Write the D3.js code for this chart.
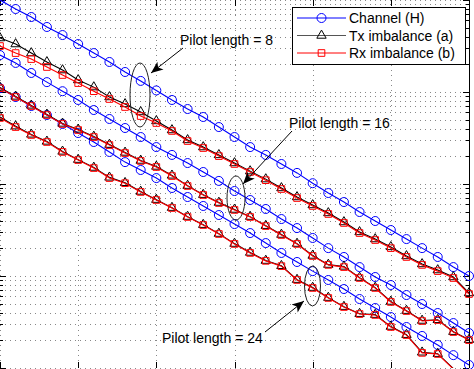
<!DOCTYPE html>
<html>
<head>
<meta charset="utf-8">
<script src="https://cdn.jsdelivr.net/npm/d3@7"></script>
<style>
  body { margin: 0; background: #fff; }
  svg { display: block; }
  text { font-family: "Liberation Sans", Arial, sans-serif; }
</style>
</head>
<body>
<script>
// SNR steps (x) shared by all curves
var snr = d3.range(0, 31);

// Pilot length = 8
var chan8 = [1.00, 0.798, 0.653, 0.509, 0.416, 0.332, 0.265, 0.212, 0.165, 0.132, 0.104,
  0.0819, 0.0653, 0.0535, 0.0416, 0.0324, 0.0252, 0.0207, 0.0165, 0.0132, 0.0102,
  0.00798, 0.00637, 0.00496, 0.00396, 0.00316, 0.00252, 0.00201, 0.00161, 0.00125, 0.00100];
var tx8 = [0.386, 0.332, 0.265, 0.212, 0.173, 0.135, 0.113, 0.0882, 0.0741, 0.0606, 0.0484,
  0.0386, 0.0301, 0.0252, 0.0207, 0.0169, 0.0138, 0.0113, 0.00905, 0.00722, 0.00591,
  0.00484, 0.00386, 0.00301, 0.00252, 0.00207, 0.00165, 0.00135, 0.00116, 0.000975, 0.000653];
var rx8 = [0.316, 0.265, 0.228, 0.187, 0.153, 0.125, 0.102, 0.0839, 0.0687, 0.0548, 0.0460,
  0.0377, 0.0293, 0.0246, 0.0201, 0.0165, 0.0135, 0.0110, 0.00882, 0.00704, 0.00577,
  0.00472, 0.00377, 0.00293, 0.00246, 0.00201, 0.00161, 0.00132, 0.00113, 0.000951, 0.000637];

// Pilot length = 16
var chan16 = [0.252, 0.207, 0.161, 0.128, 0.102, 0.0819, 0.0637, 0.0509, 0.0406, 0.0324, 0.0252,
  0.0207, 0.0169, 0.0135, 0.0108, 0.00839, 0.00670, 0.00535, 0.00416, 0.00332, 0.00259,
  0.00201, 0.00161, 0.00125, 0.000975, 0.000798, 0.000621, 0.000496, 0.000396, 0.000308, 0.000240];
var tx16 = [0.112, 0.0895, 0.0715, 0.0570, 0.0455, 0.0392, 0.0328, 0.0268, 0.0220, 0.0180, 0.0155,
  0.0124, 0.00960, 0.00765, 0.00628, 0.00528, 0.00442, 0.00352, 0.00282, 0.00225, 0.00167,
  0.00133, 0.00127, 0.000960, 0.000748, 0.000528, 0.000420, 0.000328, 0.000334, 0.000248, 0.000203];
var rx16 = [0.110, 0.0882, 0.0704, 0.0562, 0.0449, 0.0386, 0.0324, 0.0265, 0.0217, 0.0178, 0.0153,
  0.0122, 0.00951, 0.00759, 0.00621, 0.00522, 0.00438, 0.00349, 0.00279, 0.00223, 0.00165,
  0.00132, 0.00125, 0.000951, 0.000741, 0.000522, 0.000416, 0.000324, 0.000332, 0.000246, 0.000201];

// Pilot length = 24
var chan24 = [0.110, 0.0882, 0.0704, 0.0562, 0.0449, 0.0358, 0.0286, 0.0223, 0.0173, 0.0142, 0.0116,
  0.00905, 0.00722, 0.00577, 0.00460, 0.00367, 0.00293, 0.00228, 0.00178, 0.00142, 0.00113,
  0.000905, 0.000722, 0.000562, 0.000449, 0.000358, 0.000279, 0.000223, 0.000178, 0.000138, 0.000108];
var tx24 = [0.0535, 0.0425, 0.0346, 0.0290, 0.0226, 0.0184, 0.0151, 0.0118, 0.0103, 0.00828, 0.00676,
  0.00553, 0.00442, 0.00361, 0.00289, 0.00225, 0.00180, 0.00147, 0.00129, 0.000912, 0.000748,
  0.000582, 0.000464, 0.000389, 0.000380, 0.000282, 0.000230, 0.000148, 0.000143, 0.0000985, 0.0000612];
var rx24 = [0.0522, 0.0416, 0.0341, 0.0286, 0.0223, 0.0182, 0.0149, 0.0116, 0.0102, 0.00819, 0.00670,
  0.00548, 0.00438, 0.00358, 0.00286, 0.00223, 0.00178, 0.00146, 0.00128, 0.000905, 0.000741,
  0.000577, 0.000460, 0.000386, 0.000377, 0.000279, 0.000228, 0.000146, 0.000142, 0.0000975, 0.0000606];

var legendLabels = ["Channel (H)", "Tx imbalance (a)", "Rx imbalance (b)"];
var pilotLabels = ["Pilot length = 8", "Pilot length = 16", "Pilot length = 24"];
var xTicks = [0, 5, 10, 15, 20, 25, 30];

// SVG area
var svgWidth = 474;
var svgHeight = 369;

var plot = { left: 0, top: 0, right: 469, bottom: 368 };

var svg = d3.select("body")
            .append("svg")
            .attr("width", svgWidth)
            .attr("height", svgHeight);

// scales
var x = d3.scaleLinear().domain([0, 30]).range([plot.left, plot.right]);
var y = d3.scaleLog().domain([1e-4, 1]).range([plot.bottom, plot.top]);

svg.append("defs").append("clipPath")
   .attr("id", "clip")
   .append("rect")
   .attr("x", plot.left).attr("y", plot.top)
   .attr("width", plot.right - plot.left)
   .attr("height", plot.bottom - plot.top);

// grid lines (dotted, MATLAB style)
var yGrid = [];
for (var k = -4; k <= 0; k++) {
  for (var n = 1; n <= 9; n++) {
    var v = n * Math.pow(10, k);
    if (v <= 1) yGrid.push(v);
  }
}
var grid = svg.append("g").attr("class", "grid");
grid.selectAll(".hg")
    .data(yGrid)
    .enter().append("line")
    .attr("x1", plot.left).attr("x2", plot.right)
    .attr("y1", d => Math.round(y(d)) + 0.5)
    .attr("y2", d => Math.round(y(d)) + 0.5)
    .attr("stroke", "#888")
    .attr("stroke-dasharray", "1,4");
grid.selectAll(".vg")
    .data(xTicks)
    .enter().append("line")
    .attr("x1", d => Math.round(x(d)) + 0.5)
    .attr("x2", d => Math.round(x(d)) + 0.5)
    .attr("y1", plot.top).attr("y2", plot.bottom)
    .attr("stroke", "#888")
    .attr("stroke-dasharray", "1,4");

// axis box and inward ticks
var axes = svg.append("g").attr("stroke", "#000").attr("fill", "none");
axes.append("line").attr("x1", plot.right + 0.5).attr("x2", plot.right + 0.5)
    .attr("y1", plot.top).attr("y2", plot.bottom);
yGrid.forEach(function(d) {
  var len = (Math.abs(Math.log10(d) - Math.round(Math.log10(d))) < 1e-9) ? 6 : 3;
  var yy = Math.round(y(d)) + 0.5;
  axes.append("line").attr("x1", plot.left).attr("x2", plot.left + len).attr("y1", yy).attr("y2", yy);
  axes.append("line").attr("x1", plot.right).attr("x2", plot.right - len).attr("y1", yy).attr("y2", yy);
});
xTicks.forEach(function(d) {
  var xx = Math.round(x(d)) + 0.5;
  axes.append("line").attr("x1", xx).attr("x2", xx).attr("y1", plot.bottom).attr("y2", plot.bottom - 6);
  axes.append("line").attr("x1", xx).attr("x2", xx).attr("y1", plot.top).attr("y2", plot.top + 6);
});

// curves
var series = [
  { vals: chan8, color: "#0000ff", marker: "circle" },
  { vals: chan16, color: "#0000ff", marker: "circle" },
  { vals: chan24, color: "#0000ff", marker: "circle" },
  { vals: tx8, color: "#000000", marker: "triangle" },
  { vals: tx16, color: "#000000", marker: "triangle" },
  { vals: tx24, color: "#000000", marker: "triangle" },
  { vals: rx8, color: "#ff0000", marker: "square" },
  { vals: rx16, color: "#ff0000", marker: "square" },
  { vals: rx24, color: "#ff0000", marker: "square" }
];

var line = d3.line()
             .x((d, i) => x(snr[i]))
             .y(d => y(d));

var symbols = {
  circle: d3.symbol().type(d3.symbolCircle).size(Math.PI * 4.5 * 4.5),
  triangle: d3.symbol().type(d3.symbolTriangle).size(38),
  square: d3.symbol().type(d3.symbolSquare).size(44)
};

function drawMarker(g, type, color, cx, cy) {
  g.append("path")
   .attr("d", symbols[type]())
   .attr("transform", "translate(" + cx + "," + cy + ")")
   .attr("fill", "none")
   .attr("stroke", color)
   .attr("stroke-width", 1);
}

series.forEach(function(s) {
  var g = svg.append("g");
  g.append("path")
   .datum(s.vals)
   .attr("clip-path", "url(#clip)")
   .attr("d", line)
   .attr("fill", "none")
   .attr("stroke", s.color)
   .attr("stroke-width", 1.1);
  s.vals.forEach(function(v, i) {
    if (v >= 1e-4) drawMarker(g, s.marker, s.color, x(snr[i]), y(v));
  });
});

// ellipses around curve pairs, with pilot length labels and arrows
svg.append("defs").append("marker")
   .attr("id", "arrow")
   .attr("viewBox", "0 0 12 10")
   .attr("refX", 12).attr("refY", 5)
   .attr("markerWidth", 14).attr("markerHeight", 10)
   .attr("markerUnits", "userSpaceOnUse")
   .attr("orient", "auto")
   .append("path")
   .attr("d", "M0,0 L12,5 L0,10 L3,5 Z")
   .attr("fill", "#000");

var notes = [
  { cx: 140, cy: 95, rx: 10, ry: 32, tx: 180, ty: 45, ax1: 183, ay1: 48, ax2: 151, ay2: 73 },
  { cx: 236, cy: 198, rx: 9, ry: 22, tx: 289, ty: 128, ax1: 292, ay1: 131, ax2: 243, ay2: 184 },
  { cx: 312.5, cy: 286, rx: 8, ry: 20, tx: 162, ty: 343, ax1: 265, ay1: 332, ax2: 304, ay2: 301 }
];

notes.forEach(function(a, i) {
  svg.append("ellipse")
     .attr("cx", a.cx).attr("cy", a.cy)
     .attr("rx", a.rx).attr("ry", a.ry)
     .attr("fill", "none")
     .attr("stroke", "#222")
     .attr("stroke-width", 1);
  svg.append("line")
     .attr("x1", a.ax1).attr("y1", a.ay1)
     .attr("x2", a.ax2).attr("y2", a.ay2)
     .attr("stroke", "#000")
     .attr("stroke-width", 1)
     .attr("marker-end", "url(#arrow)");
  svg.append("text")
     .attr("x", a.tx).attr("y", a.ty)
     .style("font-size", "14px")
     .attr("fill", "#000")
     .text(pilotLabels[i]);
});

// legend
var legend = svg.append("g");
legend.append("rect")
      .attr("x", 292.5).attr("y", 7.5)
      .attr("width", 173).attr("height", 57)
      .attr("fill", "#fff")
      .attr("stroke", "#000");

var legendItems = [
  { color: "#0000ff", marker: "circle", line: "#0000ff" },
  { color: "#000000", marker: "triangle", line: "#555" },
  { color: "#ff0000", marker: "square", line: "#ff0000" }
];
legendItems.forEach(function(it, i) {
  var ly = 18 + i * 17.5;
  legend.append("line")
        .attr("x1", 297).attr("x2", 346)
        .attr("y1", ly).attr("y2", ly)
        .attr("stroke", it.line);
  drawMarker(legend, it.marker, it.color, 321.5, ly);
  legend.append("text")
        .attr("x", 349).attr("y", ly + 5)
        .style("font-size", "14px")
        .attr("fill", "#000")
        .text(legendLabels[i]);
});
</script>
</body>
</html>
